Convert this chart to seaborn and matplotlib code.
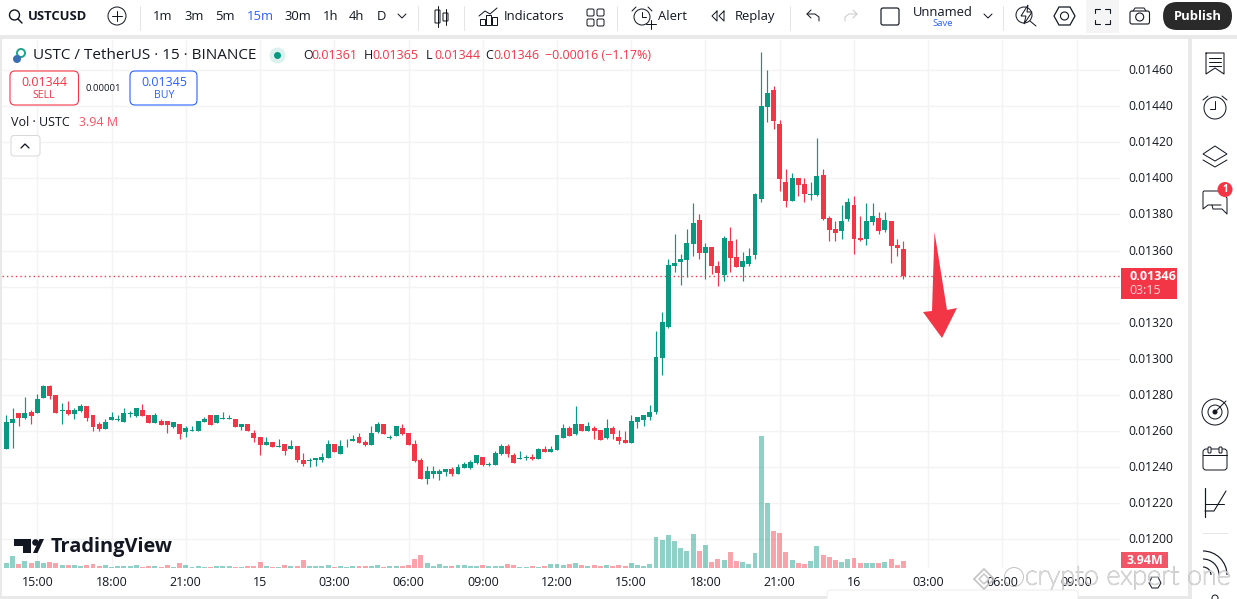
import numpy as np
import pandas as pd
import matplotlib
matplotlib.use("Agg")
import matplotlib.pyplot as plt
from matplotlib.patches import Rectangle, FancyBboxPatch, Circle, Polygon, Arc
from matplotlib.transforms import ScaledTranslation
import matplotlib.patheffects as pe
import seaborn as sns

# ---------- data (prices in 1e-5 USD, volume in millions) ----------
first_bar = -5
opens = [1249.8,1264.2,1269.8,1267,1270.3,
 1269.8,1278.1,1284.8,1279.8,1270.9,1271.4,1269.2,1270.9,1273.7,1268.7,1263.7,1260.9,
 1265.9,1265.9,1264.8,1269.4,1268.1,1271.4,1268.7,1264.2,1265.3,1265.3,1262,1263.7,
 1259.2,1259.8,1259.8,1264.8,1268.7,1264.2,1266.8,1266.8,1266.5,1262,1263.7,1258.7,
 1256.5,1252,1253.7,1250.9,1252.6,1249.8,1251.5,1243.7,1243.3,1244.2,1244.2,1244.8,
 1252.6,1247.1,1251,1254.3,1256.5,1253.7,1252,1259.3,1263.7,1256.3,1257.1,1261.5,
 1258.7,1252.6,1243.7,1233.2,1236,1236,1237.1,1238.8,1236,1239.3,1239.3,1242.1,
 1245.4,1241,1241,1247.1,1251.5,1246.5,1244.3,1244.9,1245.4,1244.3,1249.9,1248.2,
 1249.3,1256,1261.5,1258.2,1263.7,1259.8,1261.5,1260.4,1256,1261.5,1256.5,1254.8,
 1253.2,1264.8,1265.9,1267.5,1270.3,1300.3,1317.5,1351.3,1353.5,1354.7,1363.5,1376.9,
 1358.5,1361.9,1351.3,1346.3,1365.2,1356.3,1350.8,1352.4,1357.5,1388.6,1439.7,1449.1,
 1430.3,1398.1,1387.5,1400.3,1397,1390.9,1390.9,1402,1378.1,1372,1370.9,1377.5,
 1385.3,1367,1366.4,1375.9,1378.1,1371.4,1376.4,1363.1,1361]
highs = [1268.7,1272.6,1270.1,1278.7,1271.4,
 1280.3,1285.3,1285.3,1280,1275.3,1276.4,1272.6,1274.8,1273.7,1268.7,1264.8,1266.5,
 1270.3,1268.7,1272.6,1270.9,1272.6,1274.8,1268.7,1269.8,1266.5,1265.3,1264.8,1263.7,
 1262.6,1262.6,1265.3,1267.6,1268.7,1268.7,1270.3,1268.7,1266.5,1263.7,1263.7,1260.3,
 1256.5,1256.5,1253.7,1255.4,1252.6,1254.8,1251.5,1247.6,1244.8,1244.8,1247.6,1254.8,
 1252.6,1254.8,1255.4,1257.6,1258.7,1254.8,1262.6,1264.8,1263.7,1257.6,1262.6,1263.7,
 1258.7,1254.8,1244.9,1240.4,1240.4,1238.8,1238.8,1239.9,1241.5,1242.6,1243.7,1246.5,
 1245.4,1242.6,1248.7,1252.6,1252.6,1247.6,1248.7,1246.5,1247.1,1250.4,1251.5,1251.5,
 1257.6,1263.7,1262.6,1273.7,1263.7,1264.8,1262.6,1260.4,1266.5,1262.6,1260.4,1259.8,
 1268.7,1267.6,1268.7,1274.2,1315.2,1325.8,1355.2,1369.1,1358,1371.9,1386.3,1380.2,
 1364.1,1361.9,1354.1,1368,1373,1366.3,1359.1,1361.3,1392,1470.2,1460.2,1451.4,
 1432.5,1405.3,1403,1400.3,1400.3,1398.1,1422.5,1405.3,1379.2,1376.4,1385.3,1389.2,
 1390.3,1379.2,1386.4,1386.4,1381.4,1381.4,1376.4,1366.4,1365]
lows = [1249.8,1250.4,1262.6,1266.5,1263.7,
 1269.8,1278.1,1277.6,1269.8,1263.7,1268.7,1266.5,1270.3,1265.3,1259.8,1259.8,1260.9,
 1265.9,1265.3,1264.8,1267.6,1267.6,1268.1,1264.2,1264.2,1263.1,1258.7,1261.5,1255.4,
 1256.5,1259.8,1259.8,1264.8,1263.1,1264.2,1266.5,1266.5,1262,1260.3,1259.8,1253.7,
 1246.5,1252,1250.9,1250.9,1246.5,1249.8,1242.6,1240.4,1239.8,1240.4,1242.6,1244.8,
 1248.2,1247.1,1251,1254.3,1253.2,1251.5,1252,1258.7,1258.2,1255.4,1257.1,1257.6,
 1252,1242.6,1233.2,1230.4,1233.8,1232.6,1234.9,1234.9,1236,1239.3,1238.8,1241.5,
 1240.4,1240.4,1241,1246.5,1245.4,1242.1,1244.3,1243.7,1243.7,1244.3,1248.2,1248.2,
 1249.3,1256,1257.1,1257.6,1259.8,1259.8,1255.4,1254.8,1255.4,1255.4,1252.6,1253.2,
 1253.2,1261.5,1262.6,1265.9,1269.7,1290.8,1316.9,1348,1340.8,1345.2,1356.9,1355.2,
 1344.1,1346.9,1340.2,1343,1348,1350.8,1343,1351.3,1355.3,1387,1431.4,1427.5,
 1393.1,1384.2,1387.5,1390.3,1387,1388.1,1390.3,1377,1365.3,1365.3,1366.4,1376.4,
 1358.1,1365.3,1363.1,1374.2,1369.2,1370.3,1353.1,1357,1344]
closes = [1264.8,1266.5,1267,1269.8,1268.1,
 1277.6,1284.8,1279.2,1269.8,1271.4,1269.2,1271.4,1273.7,1267,1262,1260.9,1264.8,
 1267.6,1266.5,1269.8,1270,1272.6,1268.1,1264.2,1268.7,1263.1,1263.1,1264.8,1258.1,
 1261.5,1260.3,1265.3,1266.5,1263.1,1268.7,1267.4,1267.4,1262,1263.7,1259.8,1255.9,
 1252,1253.7,1250.9,1251.5,1249.2,1251.5,1244.2,1242,1243.9,1244.8,1245.4,1252.6,
 1248.2,1251.5,1251.3,1255.4,1253.2,1252,1258.7,1263.7,1258.2,1256.9,1262.6,1258.2,
 1252,1243.2,1233.2,1237.6,1237.6,1237.6,1238.8,1236,1239.9,1241.5,1242.6,1246.5,
 1241,1241.5,1247.6,1251.5,1247.1,1242.1,1244.9,1245.4,1244.3,1249.9,1248.2,1249.9,
 1257.6,1261.5,1257.1,1263.7,1259.8,1262.6,1259.8,1254.8,1261.5,1258.2,1254.3,1253.2,
 1265.4,1267.6,1268.7,1270.8,1300.8,1320.2,1351.9,1353,1355.2,1364.1,1375.2,1358.5,
 1361.9,1351.3,1347.4,1366.9,1355.8,1350.8,1354.1,1356.9,1391.4,1440.2,1447.5,1431.9,
 1399.7,1387.5,1400.3,1396.4,1391.4,1391.4,1401.4,1377.5,1371.4,1369.8,1376.4,1387,
 1366.4,1365.9,1376.4,1379.2,1370.9,1377,1362.5,1361.4,1346]
volumes = [2.8,6.8,2.3,3.9,2.8,
 3.9,2.8,3.4,2.8,1.7,1.7,1.7,1.1,1.7,2.3,1.1,1.7,
 0.6,1.1,1.1,1.1,1.7,0.6,1.1,1.1,0.6,1.7,0.6,2.8,
 1.7,0.6,1.1,0.6,0.6,1.1,1.1,1.1,0.6,0.6,1.1,1.1,
 3.4,1.1,0.6,0.6,1.7,1.1,1.1,4.5,1.1,1.1,1.1,1.7,
 0.6,1.1,0.6,1.1,1.1,1.1,1.1,1.7,0.6,1.1,1.1,1.1,
 1.7,5.1,7.3,2.8,1.1,2.3,1.1,1.1,1.7,1.7,1.1,1.1,
 1.7,1.1,1.1,1.1,2.3,1.7,0.6,0.6,1.1,0.6,1.1,2.3,
 2.3,1.7,2.3,2.8,1.7,1.1,1.7,1.1,1.7,1.1,1.7,1.1,
 2.8,1.7,1.1,2.3,17.4,15.8,18.6,15.2,11.3,9.6,19.1,9.6,
 12.9,3.4,5.1,4.5,9,3.9,3.4,2.3,8.4,74.3,36.6,20.8,
 19.7,9,4.5,2.8,2.3,3.9,12.4,7.3,6.2,4.5,3.4,5.1,
 5.6,2.8,2.8,2.8,2.8,3.4,5.1,1.7,3.94]
price_ticks = [1200,1220,1240,1260,1280,1300,1320,1340,1360,1380,1400,1420,1440,1460]
time_positions = [0,12,24,36,48,60,72,84,96,108,120,132,144,156,168]
time_labels = ["15:00","18:00","21:00","15","03:00","06:00","09:00","12:00","15:00","18:00","21:00","16","03:00","06:00","09:00"]
last_price = 1346
hidden_price_label = 1340   # sits behind the last-price tag
assert len(opens)==len(highs)==len(lows)==len(closes)==len(volumes)==146

UP="#089981"; DOWN="#F23645"; INK="#131722"; GRID="#F3F3F3"; BAND="#E9E9E9"; BLUE="#2962FF"
W,H=1237,599

sns.set_theme(style="white")
FONT="Open Sans"
plt.rcParams['font.family']=[FONT,'DejaVu Sans']

df=pd.DataFrame(dict(bar=np.arange(first_bar,first_bar+len(opens)),o=opens,h=highs,l=lows,c=closes,vol=volumes))
df["dir"]=np.where(df.c>=df.o,"up","down")
df["lo"]=df[["o","c"]].min(axis=1)*1e-5
df["span"]=(df.o-df.c).abs()*1e-5
palette={"up":UP,"down":DOWN}

fig=plt.figure(figsize=(W/100,H/100),dpi=100,facecolor="white")
rect=[2/W,(H-568)/H,1118/W,528/H]
XLIM=((2-37.3)/6.187,(1120-37.3)/6.187)
YLIM=((1460-(568-70)*0.5540)*1e-5,(1460+30*0.5540)*1e-5)

ax=fig.add_axes(rect,zorder=1,facecolor="white")
for d,sub in df.groupby("dir"):
    ax.vlines(sub.bar,sub.l*1e-5,sub.h*1e-5,color=palette[d],lw=0.85,zorder=3)
    sns.barplot(x=sub.bar.values,y=sub.span.values,bottom=sub.lo.values,native_scale=True,
                color=palette[d],saturation=1,width=0.8,errorbar=None,linewidth=0,ax=ax,zorder=4)
ax.axhline(last_price*1e-5,color=DOWN,lw=1,ls=(0,(1,2.2)),zorder=5)
ax.set_xlim(*XLIM); ax.set_ylim(*YLIM)
ax.set_xlabel(""); ax.set_ylabel("")
ax.yaxis.tick_right()
ax.set_yticks([p*1e-5 for p in price_ticks],["" if p==hidden_price_label else f"{p*1e-5:.5f}" for p in price_ticks])
ax.set_xticks(time_positions,time_labels)
ax.tick_params(axis="both",length=0,labelcolor=INK)
ax.tick_params(axis="y",pad=6.2,labelsize=8.7)
ax.tick_params(axis="x",pad=5.8,labelsize=9)
up1=ScaledTranslation(0,1/100,fig.dpi_scale_trans)
for lab in ax.get_yticklabels():
    lab.set_transform(lab.get_transform()+up1)
ax.grid(True,color=GRID,lw=1); ax.set_axisbelow(True)
for s in ax.spines.values(): s.set_visible(False)

axv=fig.add_axes(rect,zorder=2,facecolor="none")
sns.barplot(data=df,x="bar",y="vol",hue="dir",palette=palette,native_scale=True,dodge=False,saturation=1,
            width=0.8,errorbar=None,linewidth=0,alpha=0.45,legend=False,ax=axv)
axv.set_xlim(*XLIM); axv.set_ylim(0,528*0.5628); axv.axis("off")

# ---------- interface chrome, in pixel coordinates ----------
ui=fig.add_axes([0,0,1,1],zorder=5,facecolor="none")
ui.set_xlim(0,W); ui.set_ylim(H,0); ui.axis("off")
def txt(x,y,s,size=13,color=INK,ha="left",weight="normal",**k):
    return ui.text(x,y,s,fontsize=size*0.72,color=color,ha=ha,va="center",fontweight=weight,**k)
def line(xs,ys,c=INK,lw=1.0,**k):
    ui.plot(xs,ys,color=c,lw=lw*0.72,solid_capstyle="round",**k)
def box(x0,y0,x1,y1,ec=INK,fc="none",r=2,lw=1.0,z=6):
    ui.add_patch(FancyBboxPatch((x0,y0),x1-x0,y1-y0,boxstyle=f"round,pad=0,rounding_size={r}",ec=ec,fc=fc,lw=lw*0.72,zorder=z))
def circ(x,y,r,ec=INK,fc="none",lw=1.0,z=6):
    ui.add_patch(Circle((x,y),r,ec=ec,fc=fc,lw=lw*0.72,zorder=z))

# bands
ui.add_patch(Rectangle((0,0),W,35,fc="white",ec="none",zorder=0))
ui.add_patch(Rectangle((0,35),W,4,fc=BAND,ec="none",zorder=1))
ui.add_patch(Rectangle((0,35),2,H,fc=BAND,ec="none",zorder=1))
ui.add_patch(Rectangle((1188,35),4,H,fc=BAND,ec="none",zorder=1))
ui.add_patch(Rectangle((0,596),1192,3,fc=BAND,ec="none",zorder=1))
box(827,590,1078,602,ec="#ECECEC",fc="white",r=4,z=2)

# top toolbar
circ(14.5,15,5,lw=1.4); line([18,22],[19,23],lw=1.5)
txt(28,16,"USTCUSD",13,weight="bold")
circ(117,16,9); line([112,122],[16,16]); line([117,117],[11,21])
for x in (140,418,464,617,790,1003): line([x,x],[6,30],c="#E5E5E5")
for x,s,c in [(153,"1m",INK),(184,"3m",INK),(215,"5m",INK),(247,"15m",BLUE),(284,"30m",INK),(323,"1h",INK),(349,"4h",INK),(377,"D",INK)]:
    txt(x,16.5,s,13,c)
line([398,402,406],[14,18,14])
# candle-type icon
box(435,10,440,23,r=0.5); line([437.5,437.5],[6,27])
box(443,13,448,21,r=0.5); line([445.5,445.5],[9,25])
# indicators icon
line([479,485,490,497],[16,11,14,8])
for x,t in ((480,19),(486,15),(492,17)):
    ui.add_patch(Rectangle((x,t),5,25-t,fc="none",ec=INK,lw=0.72))
txt(504,16.5,"Indicators",13)
for x in (587,597):
    for y in (9,19): box(x,y,x+7,y+7,r=1.5)
# alert
circ(642,17,8); line([642,642,646],[12,17,17]); line([632,636],[11,7]); line([652,648],[11,7]); line([646,656],[24,24]); line([651,651],[20,29])
txt(658,16.5,"Alert",13)
line([717,712,717,717],[11,16,21,11]); line([724,719,724,724],[11,16,21,11])
txt(735,16.5,"Replay",13)
line([811,807,811],[10,14,18]); line([807,815,819,819],[14,14,17,21])
line([853,857,853],[10,14,18],c="#C8C8C8"); line([857,849,845,845],[14,14,17,21],c="#C8C8C8")
box(881,8,899,25,r=2,lw=1.2)
txt(943,12,"Unnamed",13,ha="center"); txt(943,24,"Save",9.5,BLUE,ha="center")
line([984,988,992],[14,18,14])
circ(1024,15,8); line([1030,1036],[21,26]); ui.add_patch(Polygon([(1028,5),(1021,16),(1026,16),(1024,24),(1032,12),(1027,12)],fc="white",ec=INK,lw=0.72,zorder=7))
ui.add_patch(Polygon([(1054,16),(1059,7),(1070,7),(1075,16),(1070,25),(1059,25)],fc="none",ec=INK,lw=0.9,zorder=6)); circ(1064.5,16,4,lw=1.1)
ui.add_patch(Rectangle((1086,0),33,33,fc="#F5F5F5",ec="none",zorder=2))
x0,x1,y0,y1=1094.5,1110,8.5,23.5
for cx,dx in ((x0,5),(x1,-5)):
    for cy,dy in ((y0,4),(y1,-4)):
        line([cx+dx,cx,cx],[cy,cy,cy+dy],lw=1.1,zorder=6)
box(1130,11,1149.5,24,r=2,lw=1.1); circ(1139.7,17,4,lw=1.1); line([1133,1135,1144,1146],[11,8,8,11])
box(1163,2,1232,30,ec="none",fc="#2A2A2A",r=14)
txt(1197.5,16,"Publish",13,"white",ha="center",weight="bold",zorder=8)

# legend row
circ(21,53,5,ec="none",fc="#1FA38B"); circ(21,53,3,ec="none",fc="white",z=7); circ(17,59,4,ec="none",fc="#3B6FB5",z=8)
txt(33,55.5,"USTC / TetherUS · 15 · BINANCE",15.2)
circ(277.5,55.5,8,ec="none",fc="#DCF1EE"); circ(277.5,55.5,3.5,ec="none",fc=UP,z=7)
for x,lab,val in [(303,"O","0.01361"),(364,"H","0.01365"),(425.5,"L","0.01344"),(485,"C","0.01346")]:
    txt(x,55.5,lab,12.5); txt(x+8.5,55.5,val,12.5,DOWN)
txt(545,55.5,"−0.00016 (−1.17%)",12.5,DOWN)
# order buttons
box(10,71,78.5,105,ec=DOWN,fc="white",r=5,lw=1.1); txt(44,82,"0.01344",12.5,DOWN,ha="center",zorder=8); txt(44,96,"SELL",10.5,DOWN,ha="center",zorder=8)
box(130,71,197,105,ec=BLUE,fc="white",r=5,lw=1.1); txt(164,82,"0.01345",12.5,BLUE,ha="center",zorder=8); txt(164,96,"BUY",10.5,BLUE,ha="center",zorder=8)
txt(103.5,88.5,"0.00001",9.5,ha="center")
txt(11,122,"Vol · USTC",12.5); txt(79,122,"3.94 M",12.5,"#F7525F")
box(11,135.5,40,156,ec="#D8D8D8",fc="white",r=3); line([21,25,29],[148,144,148],lw=1.3,zorder=8)

# price tags
ui.add_patch(Rectangle((1121,268),56,31,fc=DOWN,ec="none",zorder=6))
txt(1129,277,"0.01346",12.5,"white",weight="bold",zorder=8); txt(1129,290.5,"03:15",12.5,"#FCD3D7",zorder=8)
ui.add_patch(Rectangle((1121,552),47,16,fc="#F25565",ec="none",zorder=6))
txt(1144.5,560.5,"3.94M",12.5,"white",ha="center",weight="bold",zorder=8)

# red arrow annotation
ui.add_patch(Polygon([(934.5,232),(947,310),(957,308),(942,338),(923,312),(932,311)],fc=DOWN,ec="none",zorder=6))

# TradingView logo
ui.add_patch(Polygon([(14,539),(31,539),(31,553),(23,553),(23,546),(14,546)],fc=INK,ec="none",zorder=6))
circ(35.5,542.5,3.3,ec="none",fc=INK)
ui.add_patch(Polygon([(33,553),(39.5,539),(44,539),(37.5,553)],fc=INK,ec="none",zorder=6))
txt(51,547,"TradingView",20,INK,weight="bold",zorder=7)

# right toolbar
ui.plot([1206,1206,1215,1224,1224,1206],[53,74,68,74,53,53],color=INK,lw=0.75)
for y in (58,62,66): line([1209,1221],[y,y])
circ(1215,108,11); line([1215,1215,1210],[101,109,109]); line([1203,1208],[100,96]); line([1227,1222],[100,96])
ui.add_patch(Polygon([(1203,154),(1215,146),(1227,154),(1215,161)],fc="none",ec=INK,lw=0.72)); line([1203,1215,1227],[160,167,160])
line([1222,1204,1203,1203,1208,1221],[191,191,192,209,205,205],zorder=6)
line([1226,1227,1227,1222,1213,1212],[197,198,214,209,209,205],zorder=6)
circ(1225,189.5,7.5,ec="none",fc=DOWN,z=9); txt(1225,189.5,"1",10,"white",ha="center",weight="bold",zorder=10)
circ(1215,412,13); circ(1215,412,7); circ(1215,412,2,fc=INK); line([1215,1226],[412,401])
box(1203,449,1227,470,r=3); line([1203,1227],[455,455]); box(1208,447,1211,453,r=1,fc="white",z=7); box(1219,447,1222,453,r=1,fc="white",z=7)
line([1205,1205],[488,517],lw=1.2); line([1205,1224],[504,504]); line([1205,1214,1226],[511,511,491],lw=1.1)
line([1203,1227],[533,533],c="#E5E5E5")
for r in (8,16,24):
    ui.add_patch(Arc((1203,575),2*r,2*r,theta1=270,theta2=360,ec=INK,lw=0.85,zorder=6))
circ(1215,598,3)

# watermark over the chart
t=ui.text(1025,577,"crypto expert one",fontsize=19.5,color="white",alpha=0.8,va="center",ha="left",fontweight="light",zorder=12,family="Lato")
t.set_path_effects([pe.withStroke(linewidth=0.9,foreground="#BDBDBD")])
ui.add_patch(Polygon([(974,579),(984,569),(994,579),(984,589)],fc="none",ec="#C4C4C4",lw=1.2,zorder=12))
ui.add_patch(Polygon([(979,579),(984,574),(989,579),(984,584)],fc="none",ec="#C4C4C4",lw=1,zorder=12))
circ(1014,577,9.5,ec="#C4C4C4",lw=1,z=12)
ui.add_patch(Polygon([(1149,583),(1152,577),(1158,577),(1161,583),(1158,588),(1152,588)],fc="none",ec=INK,lw=0.72,zorder=6))

fig.savefig("out.png",dpi=100,facecolor="white")
